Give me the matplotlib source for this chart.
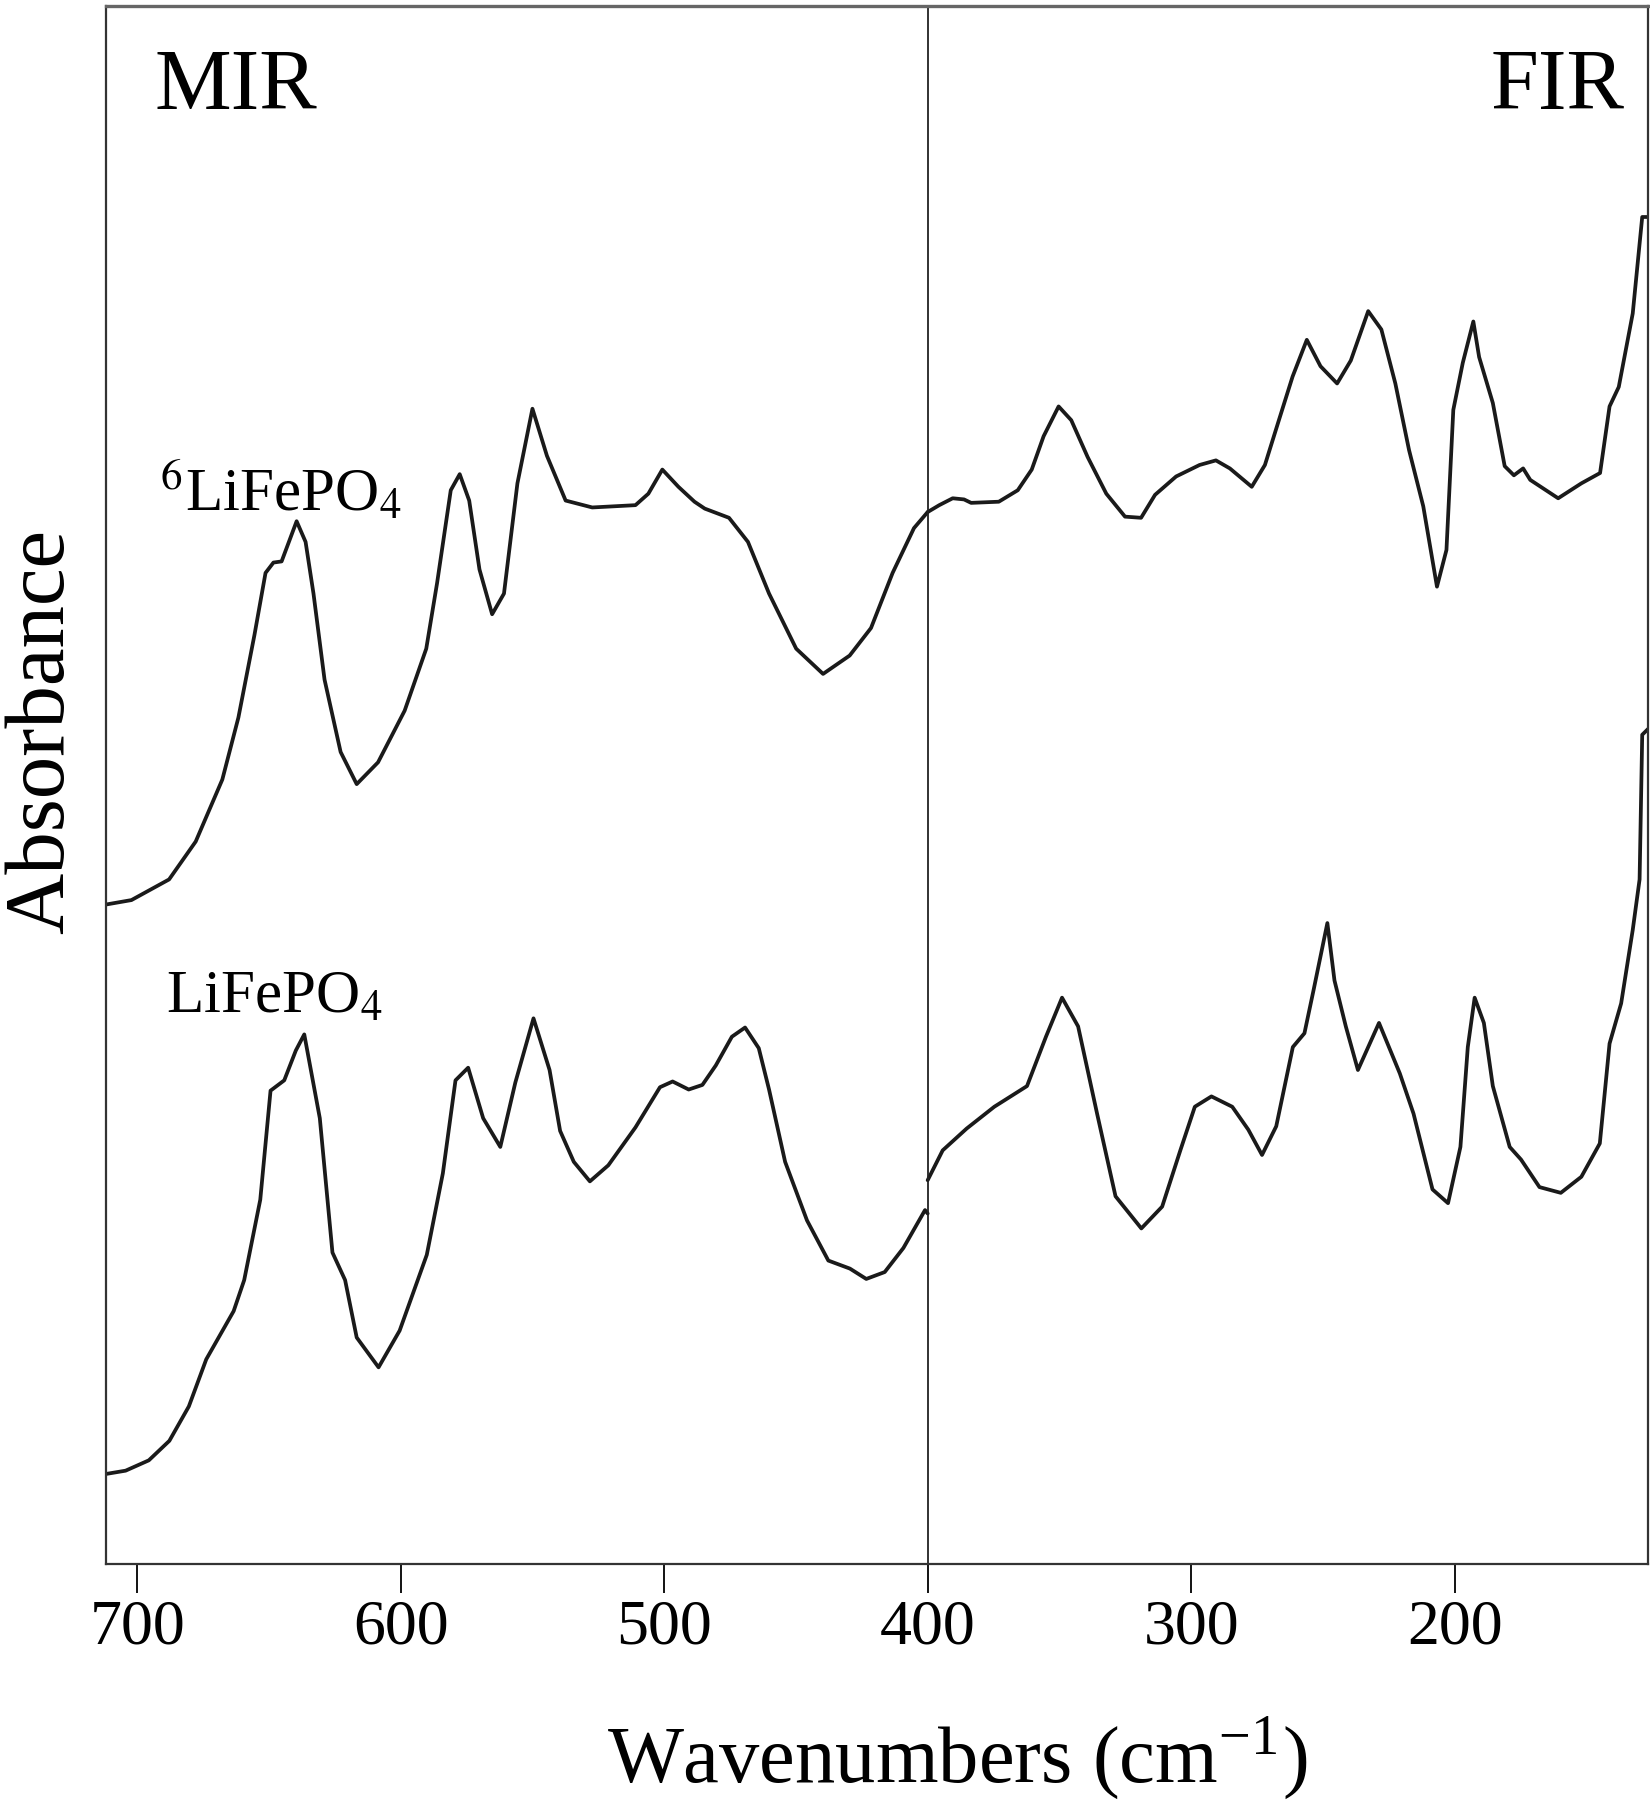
import matplotlib
matplotlib.use("Agg")
import matplotlib.pyplot as plt

# wavenumbers (cm-1) and absorbance (a.u.)
# 6LiFePO4, MIR part
w6_mir = [712.2, 702.2, 687.9, 677.8, 667.7, 661.6, 655.5, 651.3, 648.3, 645.2, 639.5, 636.1,
          633.1, 628.9, 622.8, 616.7, 608.6, 598.5, 590.3, 586.2, 581.0, 577.6, 574.0, 570.1,
          565.3, 560.8, 555.7, 550.0, 544.5, 537.4, 527.3, 510.9, 506.0, 500.7, 494.6, 488.5,
          484.6, 475.4, 468.2, 460.2, 449.9, 439.7, 429.6, 421.5, 413.3, 405.2, 400]
a6_mir = [0.574, 0.578, 0.596, 0.629, 0.683, 0.737, 0.809, 0.863, 0.872, 0.873, 0.908, 0.890,
          0.845, 0.770, 0.707, 0.679, 0.698, 0.743, 0.797, 0.854, 0.935, 0.949, 0.926, 0.866,
          0.827, 0.845, 0.941, 1.006, 0.965, 0.926, 0.920, 0.922, 0.932, 0.953, 0.938, 0.925,
          0.919, 0.911, 0.890, 0.845, 0.797, 0.775, 0.791, 0.815, 0.863, 0.902, 0.916]

# 6LiFePO4, FIR part
w6_fir = [400, 395.6, 390.5, 386.2, 383.5, 373.0, 365.8, 360.5, 356.0, 350.3, 345.5, 339.3,
          332.2, 325.1, 319.0, 313.7, 305.7, 296.8, 290.6, 285.3, 277.0, 272.0, 266.7, 261.5,
          256.1, 250.9, 244.6, 239.4, 232.8, 227.8, 222.5, 217.3, 211.9, 206.7, 203.1, 200.5,
          196.9, 192.9, 190.7, 185.5, 181.0, 177.5, 174.0, 171.3, 160.7, 151.9, 144.8, 141.2,
          137.7, 132.4, 128.8, 126.6]
a6_fir = [0.916, 0.922, 0.928, 0.927, 0.924, 0.925, 0.935, 0.953, 0.982, 1.008, 0.996, 0.964,
          0.932, 0.912, 0.911, 0.931, 0.947, 0.957, 0.961, 0.954, 0.938, 0.957, 0.996, 1.034,
          1.066, 1.043, 1.028, 1.048, 1.091, 1.075, 1.028, 0.970, 0.921, 0.851, 0.883, 1.005,
          1.046, 1.082, 1.051, 1.011, 0.956, 0.948, 0.954, 0.944, 0.928, 0.941, 0.950, 1.008,
          1.025, 1.089, 1.173, 1.173]

# LiFePO4, MIR part
wn_mir = [712.2, 704.4, 695.6, 687.8, 680.4, 673.8, 663.4, 659.4, 653.3, 649.4, 644.2, 639.8,
          636.6, 630.7, 625.9, 621.1, 616.7, 608.4, 600.4, 590.1, 584.0, 579.2, 574.4, 568.7,
          562.2, 556.5, 549.6, 543.5, 539.5, 534.3, 528.2, 521.2, 510.9, 501.6, 496.8, 490.7,
          485.5, 480.4, 474.3, 469.3, 464.1, 460.2, 454.1, 445.8, 437.7, 429.5, 423.3, 416.3,
          409.2, 401.0, 400]
an_mir = [0.078, 0.081, 0.090, 0.107, 0.137, 0.178, 0.220, 0.247, 0.317, 0.412, 0.421, 0.447,
          0.461, 0.388, 0.271, 0.247, 0.197, 0.171, 0.203, 0.269, 0.340, 0.421, 0.432, 0.388,
          0.363, 0.419, 0.475, 0.430, 0.377, 0.350, 0.333, 0.347, 0.380, 0.415, 0.420, 0.413,
          0.417, 0.434, 0.459, 0.467, 0.449, 0.413, 0.350, 0.299, 0.264, 0.257, 0.248, 0.254,
          0.275, 0.308, 0.305]

# LiFePO4, FIR part
wn_fir = [400, 394.3, 385.2, 374.7, 362.3, 355.1, 349.0, 342.9, 335.7, 328.7, 318.9, 311.0,
          304.1, 298.6, 292.3, 284.4, 278.3, 273.1, 267.7, 261.4, 257.0, 253.5, 248.3, 245.6,
          241.3, 236.7, 228.7, 220.8, 215.6, 208.4, 202.5, 197.8, 195.0, 192.4, 188.9, 185.5,
          179.1, 174.8, 167.8, 159.7, 151.9, 144.9, 141.2, 136.8, 132.4, 129.8, 128.8, 126.6]
an_fir = [0.334, 0.360, 0.379, 0.398, 0.416, 0.459, 0.493, 0.468, 0.392, 0.320, 0.292, 0.311,
          0.360, 0.398, 0.407, 0.398, 0.378, 0.356, 0.381, 0.450, 0.462, 0.500, 0.558, 0.508,
          0.468, 0.430, 0.471, 0.427, 0.392, 0.326, 0.314, 0.363, 0.450, 0.493, 0.471, 0.416,
          0.363, 0.352, 0.328, 0.323, 0.337, 0.366, 0.453, 0.488, 0.552, 0.596, 0.722, 0.727]

x_ticks = [700, 600, 500, 400, 300, 200]

plt.rcParams['font.family'] = ['Liberation Serif', 'DejaVu Serif']
plt.rcParams['mathtext.fontset'] = 'stix'

fig = plt.figure(figsize=(16.5, 18), dpi=100)
ax = fig.add_axes([0.064, 0.1313, 0.9348, 0.8655])

for w, a in [(w6_mir, a6_mir), (w6_fir, a6_fir), (wn_mir, an_mir), (wn_fir, an_fir)]:
    ax.plot(w, a, color='#1a1a1a', lw=2.7, solid_joinstyle='round', solid_capstyle='round')

ax.axvline(400, color='#222222', lw=1.3)

ax.set_xlim(712, 126.6)
ax.set_ylim(0, 1.357)
ax.set_xticks(x_ticks)
ax.set_yticks([])
ax.tick_params(axis='x', direction='out', length=21, width=1.3, pad=5, labelsize=46)
for s in ax.spines.values():
    s.set_linewidth(1.6)
    s.set_color('#333333')
ax.spines['top'].set_linewidth(2.4)
ax.spines['top'].set_color('#666666')

ax.text(0.032, 0.934, 'MIR', transform=ax.transAxes, fontsize=62, va='baseline', ha='left')
ax.text(0.985, 0.934, 'FIR', transform=ax.transAxes, fontsize=62, va='baseline', ha='right')

ax.text(691.3, 0.917, r'$^{6}$LiFePO$_{4}$', fontsize=44, va='baseline', ha='left')
ax.text(689.1, 0.480, r'LiFePO$_{4}$', fontsize=44, va='baseline', ha='left')

ax.set_xlabel(r'Wavenumbers (cm$^{\mathregular{-1}}$)', fontsize=58, va='baseline')
ax.xaxis.set_label_coords(0.552, -0.1408)
ax.set_ylabel('Absorbance', fontsize=61)
ax.yaxis.set_label_coords(-0.016, 0.534)

fig.savefig('out.png', dpi=100)
